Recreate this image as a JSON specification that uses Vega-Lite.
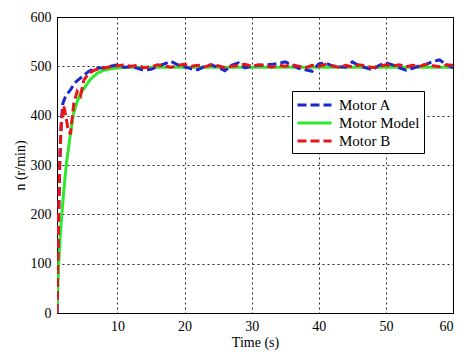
{
  "$schema": "https://vega.github.io/schema/vega-lite/v6.json",
  "width": 396,
  "height": 296,
  "autosize": "none",
  "padding": {"left": 57, "top": 17, "right": 21, "bottom": 48},
  "background": "white",
  "config": {
    "view": {"stroke": "black", "strokeWidth": 1},
    "font": "Times New Roman, Liberation Serif, serif",
    "axis": {
      "labelFont": "Times New Roman, Liberation Serif, serif",
      "titleFont": "Times New Roman, Liberation Serif, serif",
      "labelFontSize": 14,
      "titleFontSize": 14,
      "titleFontWeight": "normal",
      "labelColor": "black",
      "titleColor": "black",
      "domainColor": "black",
      "ticks": false,
      "grid": true,
      "gridColor": "black",
      "gridDash": [2, 3],
      "gridOpacity": 0.85,
      "gridWidth": 1
    },
    "legend": {
      "orient": "none",
      "legendX": 235,
      "legendY": 74,
      "fillColor": "white",
      "strokeColor": "black",
      "padding": 4,
      "labelFont": "Times New Roman, Liberation Serif, serif",
      "labelFontSize": 15,
      "labelColor": "black",
      "symbolType": "M-1,0H3",
      "symbolSize": 289,
      "symbolStrokeWidth": 3,
      "labelOffset": 23,
      "rowPadding": 0,
      "title": null
    }
  },
  "data": {
    "values": [
      {"t": 1, "n": 0, "s": "Motor Model"},
      {"t": 1.25, "n": 100, "s": "Motor Model"},
      {"t": 1.5, "n": 160, "s": "Motor Model"},
      {"t": 1.75, "n": 205, "s": "Motor Model"},
      {"t": 2, "n": 245, "s": "Motor Model"},
      {"t": 2.4, "n": 304, "s": "Motor Model"},
      {"t": 3, "n": 362, "s": "Motor Model"},
      {"t": 3.4, "n": 401, "s": "Motor Model"},
      {"t": 4, "n": 428, "s": "Motor Model"},
      {"t": 4.5, "n": 445, "s": "Motor Model"},
      {"t": 5.1, "n": 457, "s": "Motor Model"},
      {"t": 6, "n": 474, "s": "Motor Model"},
      {"t": 7, "n": 486, "s": "Motor Model"},
      {"t": 8, "n": 492, "s": "Motor Model"},
      {"t": 9, "n": 495, "s": "Motor Model"},
      {"t": 10, "n": 497, "s": "Motor Model"},
      {"t": 12, "n": 498, "s": "Motor Model"},
      {"t": 15, "n": 498, "s": "Motor Model"},
      {"t": 60, "n": 498, "s": "Motor Model"},

      {"t": 1, "n": 0, "s": "Motor A"},
      {"t": 1.1, "n": 100, "s": "Motor A"},
      {"t": 1.25, "n": 200, "s": "Motor A"},
      {"t": 1.4, "n": 300, "s": "Motor A"},
      {"t": 1.6, "n": 380, "s": "Motor A"},
      {"t": 1.87, "n": 425, "s": "Motor A"},
      {"t": 2.3, "n": 440, "s": "Motor A"},
      {"t": 3, "n": 452, "s": "Motor A"},
      {"t": 3.6, "n": 466, "s": "Motor A"},
      {"t": 4.3, "n": 474, "s": "Motor A"},
      {"t": 5.1, "n": 483, "s": "Motor A"},
      {"t": 5.75, "n": 490, "s": "Motor A"},
      {"t": 6.7, "n": 496, "s": "Motor A"},
      {"t": 8, "n": 497, "s": "Motor A"},
      {"t": 9, "n": 500, "s": "Motor A"},
      {"t": 10, "n": 503, "s": "Motor A"},
      {"t": 11, "n": 498, "s": "Motor A"},
      {"t": 12, "n": 499, "s": "Motor A"},
      {"t": 13, "n": 496, "s": "Motor A"},
      {"t": 14, "n": 492, "s": "Motor A"},
      {"t": 15, "n": 494, "s": "Motor A"},
      {"t": 16, "n": 500, "s": "Motor A"},
      {"t": 17, "n": 505, "s": "Motor A"},
      {"t": 18, "n": 510, "s": "Motor A"},
      {"t": 19, "n": 503, "s": "Motor A"},
      {"t": 20, "n": 499, "s": "Motor A"},
      {"t": 21, "n": 495, "s": "Motor A"},
      {"t": 22, "n": 493, "s": "Motor A"},
      {"t": 23, "n": 500, "s": "Motor A"},
      {"t": 24, "n": 503, "s": "Motor A"},
      {"t": 25, "n": 498, "s": "Motor A"},
      {"t": 26, "n": 491, "s": "Motor A"},
      {"t": 27, "n": 502, "s": "Motor A"},
      {"t": 28, "n": 507, "s": "Motor A"},
      {"t": 29, "n": 497, "s": "Motor A"},
      {"t": 30, "n": 500, "s": "Motor A"},
      {"t": 31, "n": 502, "s": "Motor A"},
      {"t": 32, "n": 503, "s": "Motor A"},
      {"t": 33, "n": 504, "s": "Motor A"},
      {"t": 34, "n": 506, "s": "Motor A"},
      {"t": 35, "n": 509, "s": "Motor A"},
      {"t": 36, "n": 503, "s": "Motor A"},
      {"t": 37, "n": 496, "s": "Motor A"},
      {"t": 38, "n": 493, "s": "Motor A"},
      {"t": 39, "n": 490, "s": "Motor A"},
      {"t": 40, "n": 505, "s": "Motor A"},
      {"t": 41, "n": 507, "s": "Motor A"},
      {"t": 42, "n": 501, "s": "Motor A"},
      {"t": 43, "n": 499, "s": "Motor A"},
      {"t": 44, "n": 498, "s": "Motor A"},
      {"t": 45, "n": 509, "s": "Motor A"},
      {"t": 46, "n": 501, "s": "Motor A"},
      {"t": 47, "n": 497, "s": "Motor A"},
      {"t": 48, "n": 493, "s": "Motor A"},
      {"t": 49, "n": 502, "s": "Motor A"},
      {"t": 50, "n": 507, "s": "Motor A"},
      {"t": 51, "n": 503, "s": "Motor A"},
      {"t": 52, "n": 497, "s": "Motor A"},
      {"t": 53, "n": 492, "s": "Motor A"},
      {"t": 54, "n": 496, "s": "Motor A"},
      {"t": 55, "n": 501, "s": "Motor A"},
      {"t": 56, "n": 504, "s": "Motor A"},
      {"t": 57, "n": 510, "s": "Motor A"},
      {"t": 58, "n": 513, "s": "Motor A"},
      {"t": 59, "n": 504, "s": "Motor A"},
      {"t": 60, "n": 497, "s": "Motor A"},

      {"t": 1, "n": 0, "s": "Motor B"},
      {"t": 1.1, "n": 100, "s": "Motor B"},
      {"t": 1.25, "n": 200, "s": "Motor B"},
      {"t": 1.4, "n": 300, "s": "Motor B"},
      {"t": 1.55, "n": 360, "s": "Motor B"},
      {"t": 1.75, "n": 400, "s": "Motor B"},
      {"t": 2, "n": 420, "s": "Motor B"},
      {"t": 2.3, "n": 400, "s": "Motor B"},
      {"t": 2.6, "n": 376, "s": "Motor B"},
      {"t": 3, "n": 362, "s": "Motor B"},
      {"t": 3.5, "n": 425, "s": "Motor B"},
      {"t": 4, "n": 449, "s": "Motor B"},
      {"t": 4.5, "n": 440, "s": "Motor B"},
      {"t": 5, "n": 472, "s": "Motor B"},
      {"t": 5.75, "n": 486, "s": "Motor B"},
      {"t": 6.75, "n": 493, "s": "Motor B"},
      {"t": 7.75, "n": 496, "s": "Motor B"},
      {"t": 9, "n": 499, "s": "Motor B"},
      {"t": 10, "n": 501, "s": "Motor B"},
      {"t": 11, "n": 503, "s": "Motor B"},
      {"t": 12, "n": 500, "s": "Motor B"},
      {"t": 13, "n": 502, "s": "Motor B"},
      {"t": 14, "n": 497, "s": "Motor B"},
      {"t": 15, "n": 499, "s": "Motor B"},
      {"t": 16, "n": 503, "s": "Motor B"},
      {"t": 17, "n": 501, "s": "Motor B"},
      {"t": 18, "n": 498, "s": "Motor B"},
      {"t": 19, "n": 502, "s": "Motor B"},
      {"t": 20, "n": 504, "s": "Motor B"},
      {"t": 21, "n": 500, "s": "Motor B"},
      {"t": 22, "n": 502, "s": "Motor B"},
      {"t": 23, "n": 499, "s": "Motor B"},
      {"t": 24, "n": 503, "s": "Motor B"},
      {"t": 25, "n": 501, "s": "Motor B"},
      {"t": 26, "n": 497, "s": "Motor B"},
      {"t": 27, "n": 500, "s": "Motor B"},
      {"t": 28, "n": 502, "s": "Motor B"},
      {"t": 29, "n": 504, "s": "Motor B"},
      {"t": 30, "n": 500, "s": "Motor B"},
      {"t": 31, "n": 503, "s": "Motor B"},
      {"t": 32, "n": 501, "s": "Motor B"},
      {"t": 33, "n": 498, "s": "Motor B"},
      {"t": 34, "n": 502, "s": "Motor B"},
      {"t": 35, "n": 500, "s": "Motor B"},
      {"t": 36, "n": 503, "s": "Motor B"},
      {"t": 37, "n": 500, "s": "Motor B"},
      {"t": 38, "n": 497, "s": "Motor B"},
      {"t": 39, "n": 502, "s": "Motor B"},
      {"t": 40, "n": 500, "s": "Motor B"},
      {"t": 41, "n": 504, "s": "Motor B"},
      {"t": 42, "n": 501, "s": "Motor B"},
      {"t": 43, "n": 498, "s": "Motor B"},
      {"t": 44, "n": 502, "s": "Motor B"},
      {"t": 45, "n": 499, "s": "Motor B"},
      {"t": 46, "n": 503, "s": "Motor B"},
      {"t": 47, "n": 501, "s": "Motor B"},
      {"t": 48, "n": 497, "s": "Motor B"},
      {"t": 49, "n": 500, "s": "Motor B"},
      {"t": 50, "n": 503, "s": "Motor B"},
      {"t": 51, "n": 501, "s": "Motor B"},
      {"t": 52, "n": 503, "s": "Motor B"},
      {"t": 53, "n": 499, "s": "Motor B"},
      {"t": 54, "n": 502, "s": "Motor B"},
      {"t": 55, "n": 500, "s": "Motor B"},
      {"t": 56, "n": 504, "s": "Motor B"},
      {"t": 57, "n": 501, "s": "Motor B"},
      {"t": 58, "n": 499, "s": "Motor B"},
      {"t": 59, "n": 503, "s": "Motor B"},
      {"t": 60, "n": 502, "s": "Motor B"}
    ]
  },
  "encoding": {
    "x": {
      "field": "t",
      "type": "quantitative",
      "title": "Time (s)",
      "scale": {"domain": [1, 60], "nice": false, "zero": false},
      "axis": {"values": [10, 20, 30, 40, 50, 60], "labelPadding": 6, "titlePadding": 2}
    },
    "y": {
      "field": "n",
      "type": "quantitative",
      "title": "n (r/min)",
      "scale": {"domain": [0, 600], "nice": false},
      "axis": {"values": [0, 100, 200, 300, 400, 500, 600], "labelPadding": 6, "titlePadding": 3}
    },
    "color": {
      "field": "s",
      "type": "nominal",
      "scale": {"domain": ["Motor A", "Motor Model", "Motor B"], "range": ["#1c28c8", "#2ee82e", "#e8141a"]},
      "legend": {"title": null}
    },
    "strokeDash": {
      "field": "s",
      "type": "nominal",
      "scale": {"domain": ["Motor A", "Motor Model", "Motor B"], "range": [[9, 4], [1, 0], [9, 4]]},
      "legend": {"title": null}
    }
  },
  "layer": [
    {"transform": [{"filter": "datum.s === 'Motor Model'"}], "mark": {"type": "line", "strokeWidth": 3, "clip": true}},
    {"transform": [{"filter": "datum.s === 'Motor A'"}], "mark": {"type": "line", "strokeWidth": 3, "clip": true}},
    {"transform": [{"filter": "datum.s === 'Motor B'"}], "mark": {"type": "line", "strokeWidth": 3, "clip": true}}
  ]
}
